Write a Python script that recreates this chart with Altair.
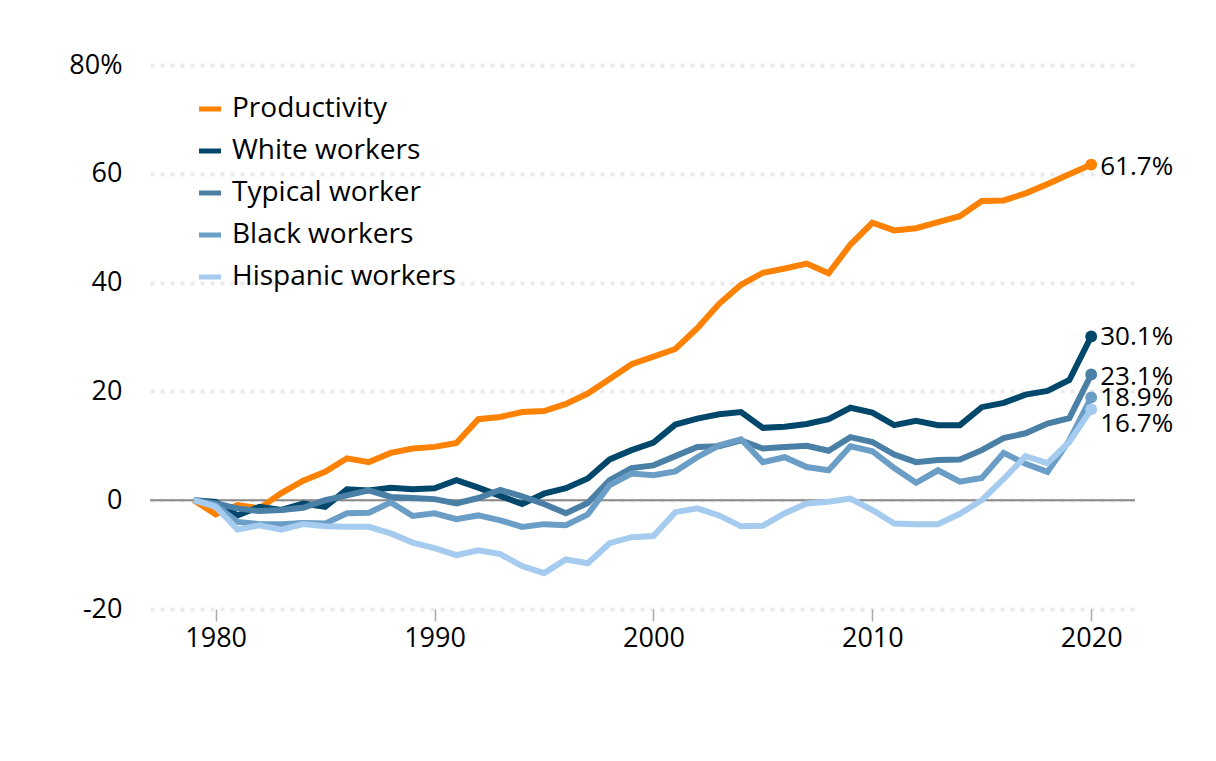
import altair as alt
import pandas as pd

# Cumulative change since 1979, percent
years = list(range(1979, 2021))

productivity = [0, -2.6, -0.9, -1.5, 1.3, 3.6, 5.2, 7.7, 7.0, 8.7,
                9.5, 9.8, 10.5, 14.9, 15.3, 16.2, 16.4, 17.7, 19.6, 22.3,
                25.0, 26.4, 27.8, 31.6, 36.1, 39.6, 41.8, 42.6, 43.5, 41.7,
                47.0, 51.0, 49.6, 50.0, 51.1, 52.2, 55.0, 55.1, 56.4, 58.1,
                59.9, 61.7]

white_workers = [0, -0.3, -2.8, -1.2, -1.8, -0.6, -1.2, 2.0, 1.8, 2.3,
                 2.0, 2.2, 3.7, 2.3, 0.8, -0.7, 1.2, 2.2, 4.0, 7.5,
                 9.2, 10.6, 13.9, 15.0, 15.8, 16.2, 13.3, 13.5, 14.0, 14.9,
                 17.0, 16.1, 13.8, 14.6, 13.8, 13.8, 17.1, 17.9, 19.4, 20.1,
                 22.1, 30.1]

typical_worker = [0, -0.6, -1.5, -2.0, -1.8, -1.4, 0.0, 0.9, 1.8, 0.6,
                  0.4, 0.2, -0.6, 0.4, 1.9, 0.7, -0.7, -2.4, -0.5, 3.7,
                  5.9, 6.4, 8.1, 9.8, 9.9, 11.0, 9.5, 9.8, 10.0, 9.1,
                  11.6, 10.7, 8.4, 7.0, 7.4, 7.5, 9.2, 11.4, 12.3, 14.1,
                  15.1, 23.1]

black_workers = [0, -0.9, -4.0, -4.4, -4.4, -4.2, -4.3, -2.4, -2.3, -0.4,
                 -2.9, -2.4, -3.5, -2.8, -3.7, -4.9, -4.4, -4.6, -2.6, 2.8,
                 4.9, 4.6, 5.3, 7.9, 10.1, 11.2, 7.0, 7.9, 6.1, 5.5,
                 9.9, 9.0, 5.9, 3.2, 5.5, 3.4, 4.1, 8.7, 6.7, 5.2,
                 11.0, 18.9]

hispanic_workers = [0, -1.2, -5.4, -4.6, -5.4, -4.4, -4.8, -4.9, -4.9, -6.1,
                    -7.8, -8.8, -10.1, -9.2, -9.9, -12.1, -13.4, -10.9, -11.6, -7.9,
                    -6.8, -6.6, -2.2, -1.5, -2.8, -4.8, -4.7, -2.4, -0.6, -0.3,
                    0.3, -1.8, -4.3, -4.4, -4.4, -2.5, 0.0, 3.9, 8.1, 6.8,
                    10.7, 16.7]

series_names = ["Productivity", "White workers", "Typical worker",
                "Black workers", "Hispanic workers"]
series_values = [productivity, white_workers, typical_worker,
                 black_workers, hispanic_workers]
series_colors = ["#fd8103", "#00476b", "#4a7fa6", "#6b9ec6", "#a5cbef"]

# vertical nudge (px) for the end-of-line value labels so they don't collide
label_nudge = [2, 1, 2, 1, 15]

y_ticks = [-20, 0, 20, 40, 60, 80]
x_ticks = [1980, 1990, 2000, 2010, 2020]

FONT = "Open Sans"
AXIS_FS = 27
LEGEND_FS = 28
END_FS = 26

rows = []
for i, (name, vals) in enumerate(zip(series_names, series_values)):
    for yr, v in zip(years, vals):
        rows.append({"year": yr, "value": v, "series": name, "order": i,
                     "label": f"{v:.1f}%"})
df = pd.DataFrame(rows)

x_scale = alt.Scale(domain=[1977, 2022], nice=False, zero=False)
y_scale = alt.Scale(domain=[-20, 80], nice=False)
color_scale = alt.Scale(domain=series_names, range=series_colors)

base = alt.Chart(df)

x_enc = alt.X(
    "year:Q", scale=x_scale, title=None,
    axis=alt.Axis(values=x_ticks, format="d", grid=False, domain=False,
                  ticks=True, tickColor="#aaaaaa", tickSize=12, tickWidth=1.5,
                  labelFontSize=AXIS_FS, labelColor="#000000", labelPadding=4,
                  labelFont=FONT),
)
y_enc = alt.Y(
    "value:Q", scale=y_scale, title=None,
    axis=alt.Axis(values=y_ticks, grid=True, gridColor="#ebebeb",
                  gridWidth=4, gridDash=[4, 6], domain=False, ticks=False,
                  labelFontSize=AXIS_FS, labelColor="#000000", labelPadding=28,
                  labelFont=FONT,
                  labelExpr=("datum.value == 80 ? '80%' : "
                             "(datum.value < 0 ? '-' + abs(datum.value) : '' + datum.value)")),
)

zero_line = alt.Chart(pd.DataFrame({"v": [0]})).mark_rule(
    color="#888888", strokeWidth=2
).encode(y=alt.Y("v:Q", scale=y_scale))

lines = base.mark_line(strokeWidth=6, strokeJoin="miter").encode(
    x=x_enc,
    y=y_enc,
    color=alt.Color(
        "series:N", scale=color_scale, sort=series_names, title=None,
        legend=alt.Legend(
            orient="none", legendX=46, legendY=30, direction="vertical",
            symbolType="stroke", symbolSize=484, symbolStrokeWidth=5,
            labelFontSize=LEGEND_FS, labelFont=FONT, labelColor="#000000",
            labelOffset=8, rowPadding=14, padding=0, labelLimit=0,
        ),
    ),
    order=alt.Order("order:Q"),
)

end_points = base.transform_filter(alt.datum.year == 2020).mark_point(
    filled=True, opacity=1, size=140
).encode(
    x=alt.X("year:Q", scale=x_scale),
    y=alt.Y("value:Q", scale=y_scale),
    color=alt.Color("series:N", scale=color_scale, legend=None),
)

labels = []
for name, nudge in zip(series_names, label_nudge):
    labels.append(
        base.transform_filter(
            (alt.datum.year == 2020) & (alt.datum.series == name)
        ).mark_text(
            align="left", baseline="middle", dx=9, dy=nudge,
            fontSize=END_FS, font=FONT, color="#000000",
        ).encode(
            x=alt.X("year:Q", scale=x_scale),
            y=alt.Y("value:Q", scale=y_scale),
            text="label:N",
        )
    )

chart = alt.layer(zero_line, lines, end_points, *labels).properties(
    width=985,
    height=544,
    autosize=alt.AutoSizeParams(type="none"),
    padding={"left": 150, "top": 65, "right": 81, "bottom": 152},
).configure(font=FONT).configure_view(stroke=None)

chart.save("out.html", embed_options={"renderer": "svg", "actions": False})
